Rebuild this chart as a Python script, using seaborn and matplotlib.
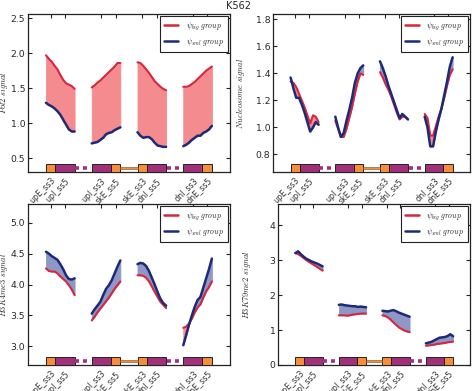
import numpy as np
import pandas as pd
import seaborn as sns
import matplotlib
matplotlib.use("Agg")
import matplotlib.pyplot as plt
from matplotlib.patches import Rectangle
import matplotlib.transforms as mtransforms

# ---------------- data ----------------
seg_pos = [0, 10, 20, 30, 40, 50, 60, 70, 80, 90, 100]
seg_starts = [0, 160, 320, 480]
tick_labels = ["upE_ss3", "upI_ss5", "upI_ss3", "skE_ss5",
               "skE_ss3", "dnI_ss5", "dnI_ss3", "dnE_ss5"]
exon_first = [True, False, True, False]   # exon block on the left of segment?
exon_len = 33

pol2_big = [[1.97, 1.92, 1.88, 1.82, 1.77, 1.69, 1.62, 1.57, 1.55, 1.53, 1.49],
            [1.51, 1.54, 1.58, 1.61, 1.65, 1.69, 1.73, 1.77, 1.81, 1.86, 1.86],
            [1.87, 1.86, 1.82, 1.77, 1.72, 1.66, 1.60, 1.56, 1.52, 1.49, 1.47],
            [1.52, 1.52, 1.53, 1.56, 1.59, 1.63, 1.67, 1.71, 1.75, 1.78, 1.81]]
pol2_sml = [[1.29, 1.26, 1.24, 1.21, 1.17, 1.12, 1.05, 0.98, 0.91, 0.88, 0.88],
            [0.71, 0.72, 0.73, 0.76, 0.79, 0.84, 0.86, 0.87, 0.90, 0.92, 0.94],
            [0.87, 0.82, 0.79, 0.80, 0.80, 0.77, 0.72, 0.68, 0.67, 0.66, 0.66],
            [0.67, 0.69, 0.72, 0.76, 0.79, 0.82, 0.82, 0.86, 0.88, 0.91, 0.96]]

nuc_big = [[1.34, 1.33, 1.30, 1.25, 1.20, 1.15, 1.09, 1.03, 1.09, 1.08, 1.04],
           [1.05, 0.99, 0.93, 0.93, 0.99, 1.07, 1.15, 1.25, 1.34, 1.40, 1.39],
           [1.41, 1.37, 1.32, 1.28, 1.23, 1.17, 1.11, 1.06, 1.08, 1.08, 1.06],
           [1.10, 1.07, 0.94, 0.94, 1.01, 1.08, 1.14, 1.22, 1.31, 1.39, 1.43]]
nuc_sml = [[1.37, 1.29, 1.22, 1.22, 1.17, 1.11, 1.04, 0.97, 1.00, 1.04, 1.02],
           [1.08, 1.00, 0.93, 0.96, 1.05, 1.13, 1.22, 1.33, 1.40, 1.44, 1.46],
           [1.49, 1.44, 1.38, 1.31, 1.25, 1.19, 1.13, 1.07, 1.10, 1.08, 1.06],
           [1.08, 1.00, 0.86, 0.86, 0.97, 1.06, 1.14, 1.24, 1.34, 1.45, 1.52]]

k4_big = [[4.26, 4.22, 4.21, 4.21, 4.18, 4.13, 4.09, 4.05, 3.99, 3.92, 3.83],
          [3.42, 3.48, 3.55, 3.61, 3.67, 3.73, 3.79, 3.86, 3.93, 3.99, 4.05],
          [4.15, 4.15, 4.14, 4.11, 4.05, 3.97, 3.88, 3.80, 3.72, 3.67, 3.62],
          [3.30, 3.32, 3.37, 3.45, 3.55, 3.63, 3.68, 3.79, 3.89, 3.96, 4.05]]
k4_sml = [[4.53, 4.50, 4.46, 4.43, 4.40, 4.33, 4.25, 4.15, 4.09, 4.08, 4.10],
          [3.53, 3.60, 3.66, 3.72, 3.83, 3.93, 3.99, 4.07, 4.18, 4.29, 4.39],
          [4.33, 4.35, 4.34, 4.30, 4.22, 4.11, 4.00, 3.88, 3.77, 3.70, 3.66],
          [3.02, 3.18, 3.35, 3.50, 3.64, 3.75, 3.80, 3.95, 4.10, 4.25, 4.42]]

k79_big = [[3.20, 3.17, 3.12, 3.06, 3.00, 2.95, 2.90, 2.85, 2.80, 2.75, 2.70],
           [1.42, 1.42, 1.42, 1.41, 1.42, 1.44, 1.45, 1.46, 1.47, 1.47, 1.47],
           [1.42, 1.40, 1.36, 1.30, 1.22, 1.15, 1.08, 1.03, 0.99, 0.96, 0.94],
           [0.55, 0.56, 0.57, 0.58, 0.60, 0.61, 0.62, 0.63, 0.65, 0.66, 0.67]]
k79_sml = [[3.20, 3.25, 3.17, 3.10, 3.04, 3.00, 2.96, 2.93, 2.90, 2.86, 2.82],
           [1.72, 1.73, 1.71, 1.70, 1.69, 1.68, 1.68, 1.66, 1.67, 1.66, 1.65],
           [1.55, 1.54, 1.53, 1.55, 1.57, 1.54, 1.50, 1.47, 1.44, 1.41, 1.38],
           [0.62, 0.64, 0.66, 0.70, 0.74, 0.78, 0.79, 0.80, 0.83, 0.88, 0.82]]

panels = [
    (pol2_big, pol2_sml, r"$Pol2\ signal$", (0.3, 2.56), [0.5, 1.0, 1.5, 2.0, 2.5], "{:.1f}"),
    (nuc_big, nuc_sml, r"$Nucleosome\ signal$", (0.67, 1.84), [0.8, 1.0, 1.2, 1.4, 1.6, 1.8], "{:.1f}"),
    (k4_big, k4_sml, r"$H3K4me3\ signal$", (2.7, 5.3), [3.0, 3.5, 4.0, 4.5, 5.0], "{:.1f}"),
    (k79_big, k79_sml, r"$H3K79me2\ signal$", (0.0, 4.6), [0, 1, 2, 3, 4], "{:.0f}"),
]
legend_labels = [r"$\psi_{big}\ group$", r"$\psi_{sml}\ group$"]

# ---------------- style ----------------
sns.set_style("ticks")
plt.rcParams.update({
    "font.family": ["DejaVu Sans"],
    "mathtext.fontset": "cm",
    "xtick.direction": "in", "ytick.direction": "in",
    "xtick.top": True, "ytick.right": True,
    "xtick.major.size": 3, "ytick.major.size": 3,
    "axes.edgecolor": "#222222", "axes.linewidth": 0.9,
})

RED = "#d7263d"
BLUE = "#1d2a78"
FILL_RED = "#f48c8f"
FILL_BLUE = "#8f97c6"
ORANGE = "#f68d3a"
PURPLE = "#a1307a"

fig = plt.figure(figsize=(4.74, 3.91), dpi=100)
rects = [
    [0.059, 0.560, 0.426, 0.404],
    [0.576, 0.560, 0.416, 0.404],
    [0.059, 0.0665, 0.426, 0.4115],
    [0.587, 0.0665, 0.405, 0.4115],
]
ylabel_x = [-0.09, -0.13, -0.09, -0.13]

tick_pos = []
for s, ef in zip(seg_starts, exon_first):
    if ef:
        tick_pos += [s + exon_len / 2, s + exon_len + (100 - exon_len) / 2]
    else:
        tick_pos += [s + (100 - exon_len) / 2, s + (100 - exon_len) + exon_len / 2]

for (big, sml, ylab, ylim, yticks, fmt), r, lx in zip(panels, rects, ylabel_x):
    ax = fig.add_axes(r)
    rows = []
    for k, s in enumerate(seg_starts):
        for p, vb, vs in zip(seg_pos, big[k], sml[k]):
            rows.append({"x": s + p, "val": vb, "grp": "big", "seg": k})
            rows.append({"x": s + p, "val": vs, "grp": "sml", "seg": k})
    df = pd.DataFrame(rows)
    for k, s in enumerate(seg_starts):
        xs = np.array(seg_pos) + s
        yb = np.array(big[k]); ys = np.array(sml[k])
        ax.fill_between(xs, yb, ys, where=yb >= ys, interpolate=True,
                        color=FILL_RED, lw=0.6, edgecolor=FILL_RED, zorder=1)
        ax.fill_between(xs, yb, ys, where=ys >= yb, interpolate=True,
                        color=FILL_BLUE, lw=0.6, edgecolor=FILL_BLUE, zorder=1)
    sns.lineplot(data=df[df.grp == "big"], x="x", y="val", units="seg",
                 estimator=None, color=RED, lw=1.5, ax=ax, zorder=3)
    sns.lineplot(data=df[df.grp == "sml"], x="x", y="val", units="seg",
                 estimator=None, color=BLUE, lw=1.8, ax=ax, zorder=4)

    ax.set_xlim(-63, 643)
    ax.set_ylim(*ylim)
    ax.set_yticks(yticks)
    ax.set_yticklabels([fmt.format(v) for v in yticks], fontsize=6.7)
    ax.set_xticks(tick_pos)
    ax.set_xticklabels(tick_labels, fontsize=5.8, rotation=45, ha="right",
                       rotation_mode="anchor", color="#333333")
    ax.tick_params(axis="x", pad=3)
    ax.tick_params(axis="y", pad=2)
    ax.set_xlabel("")
    ax.set_ylabel(ylab, fontsize=6.0)
    ax.yaxis.set_label_coords(lx, 0.5)

    # gene structure at the bottom
    tr = mtransforms.blended_transform_factory(ax.transData, ax.transAxes)
    h = 0.05
    for s, ef in zip(seg_starts, exon_first):
        if ef:
            parts = [(s, exon_len, ORANGE), (s + exon_len, 100 - exon_len, PURPLE)]
        else:
            parts = [(s, 100 - exon_len, PURPLE), (s + 100 - exon_len, exon_len, ORANGE)]
        for x0, w, c in parts:
            ax.add_patch(Rectangle((x0, 0.0), w, h, transform=tr, facecolor=c,
                                   edgecolor="#222222", lw=0.7, zorder=5, clip_on=False))
    ycen = h / 2
    for a, b in [(seg_starts[0] + 100, seg_starts[1]), (seg_starts[2] + 100, seg_starts[3])]:
        ax.plot([a + 3, b - 3], [ycen, ycen], transform=tr, color=PURPLE, lw=2.6,
                dashes=(1.1, 1.1), solid_capstyle="butt", zorder=5)
    a, b = seg_starts[1] + 100, seg_starts[2]
    ax.add_patch(Rectangle((a, ycen - 0.008), b - a, 0.016, transform=tr,
                           facecolor=ORANGE, edgecolor="#7a4a20", lw=0.4, zorder=5))

    handles = [plt.Line2D([], [], color=RED, lw=1.8),
               plt.Line2D([], [], color=BLUE, lw=1.8)]
    leg = ax.legend(handles, legend_labels, loc="upper right", fontsize=5.6,
                    frameon=True, fancybox=False, framealpha=1, edgecolor="#222222",
                    borderaxespad=0.25, handlelength=1.8, handletextpad=1.0,
                    borderpad=0.5, labelspacing=0.55)
    leg.get_frame().set_linewidth(0.8)

fig.suptitle("K562", fontsize=7, y=0.998, x=0.503, va="top")
fig.savefig("out.png", dpi=100)
